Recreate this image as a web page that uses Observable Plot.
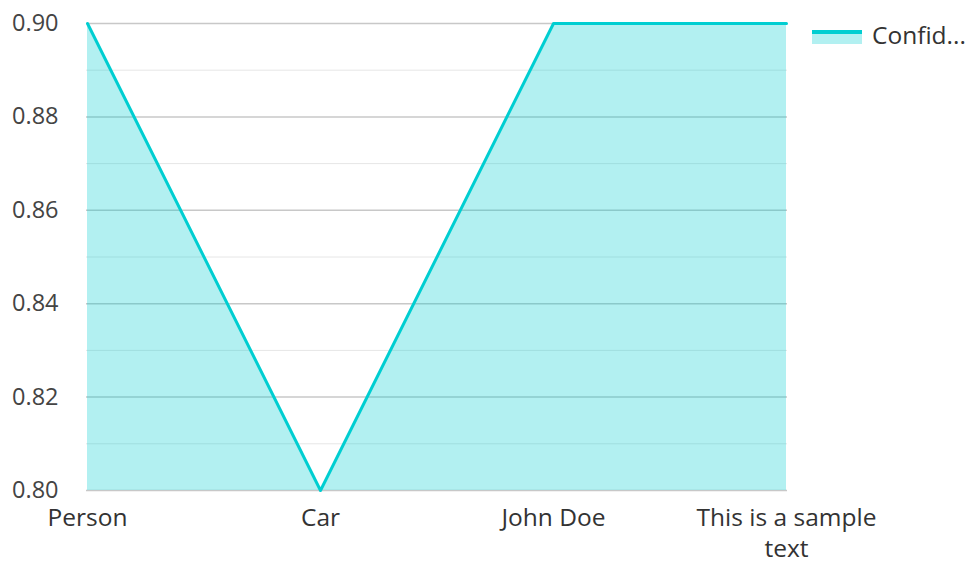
<!DOCTYPE html>
<html>
<head>
<meta charset="utf-8">
<script src="https://cdn.jsdelivr.net/npm/d3@7"></script>
<script src="https://cdn.jsdelivr.net/npm/@observablehq/plot@0.6"></script>
<style>
  body { margin: 0; background: #fff; font-family: "Open Sans", sans-serif; }
  #wrap { position: relative; width: 969px; height: 562px; }
  #legend { position: absolute; left: 812px; top: 18px; display: flex; align-items: center; font-size: 24.5px; color: #333; }
  #legend .sw { width: 50px; height: 16px; position: relative; margin-right: 10px; }
  #legend .sw .a { position: absolute; left: 0; top: 5px; width: 50px; height: 12px; background: rgba(0,206,209,0.3); }
  #legend .sw .l { position: absolute; left: 0; top: 3px; width: 50px; height: 4px; background: #00ced1; }
</style>
</head>
<body>
<div id="wrap">
  <div id="chart"></div>
  <div id="legend"><div class="sw"><div class="a"></div><div class="l"></div></div><span>Confid...</span></div>
</div>
<script>
const categories = ["Person", "Car", "John Doe", "This is a sample\ntext"];
const confidence = [0.90, 0.80, 0.90, 0.90];
const majorTicks = [0.80, 0.82, 0.84, 0.86, 0.88, 0.90];
const minorTicks = [0.81, 0.83, 0.85, 0.87, 0.89];

const data = categories.map((c, i) => ({ category: c, value: confidence[i] }));

const chart = Plot.plot({
  width: 969,
  height: 562,
  marginLeft: 86,
  marginRight: 182,
  marginTop: 23,
  marginBottom: 72,
  style: { fontFamily: "Open Sans, sans-serif", background: "#fff" },
  x: { type: "point", domain: categories, padding: 0, axis: null },
  y: { domain: [0.80, 0.90], axis: null },
  marks: [
    Plot.ruleY(minorTicks, { stroke: "#e6e6e6", strokeWidth: 1 }),
    Plot.ruleY(majorTicks, { stroke: "#c8c8c8", strokeWidth: 1.5 }),
    Plot.areaY(data, { x: "category", y1: 0.80, y2: "value", fill: "#00ced1", fillOpacity: 0.3 }),
    Plot.lineY(data, { x: "category", y: "value", stroke: "#00ced1", strokeWidth: 3 }),
    Plot.axisY({ ticks: majorTicks, tickFormat: d3.format(".2f"), tickSize: 0, tickPadding: 28, fontSize: 23.5, color: "#444", label: null }),
    Plot.text(data, { x: "category", text: "category", frameAnchor: "bottom", lineAnchor: "top", dy: 13, fontSize: 24.5, lineHeight: 1.27, fill: "#333" })
  ]
});
document.getElementById("chart").appendChild(chart);
</script>
</body>
</html>
